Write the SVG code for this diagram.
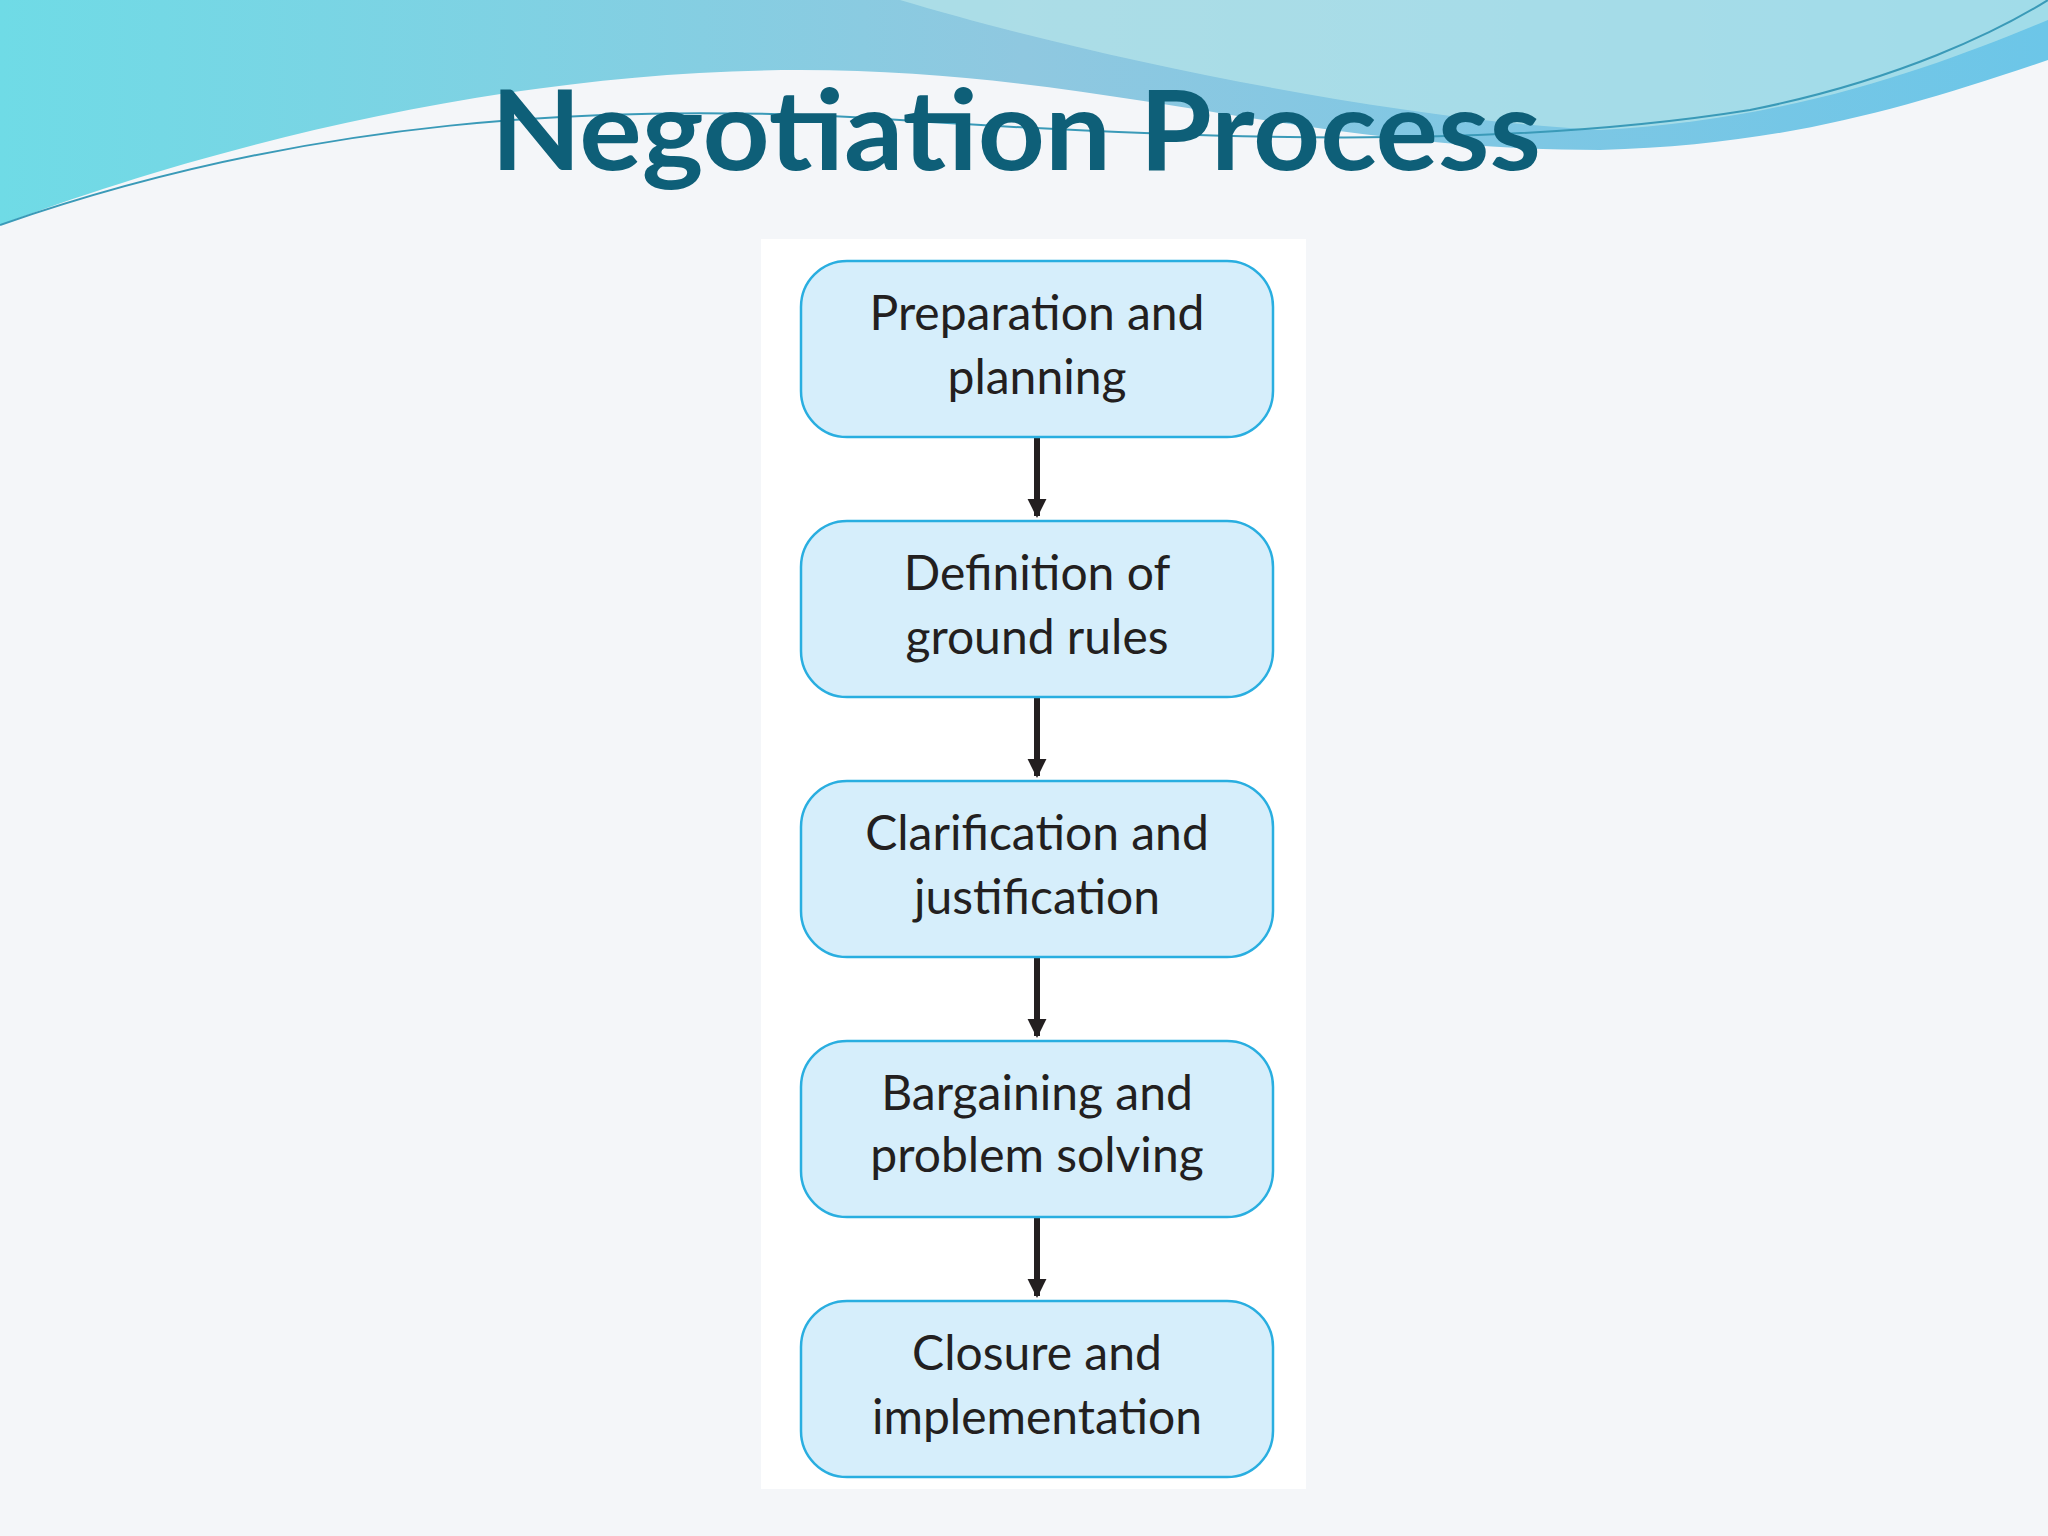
<svg xmlns="http://www.w3.org/2000/svg" width="2048" height="1536" viewBox="0 0 2048 1536">
<style>
.box{fill:#d6eefb;stroke:#29aee0;stroke-width:2.5}
.t{font-family:Lato,"Open Sans",sans-serif;font-size:48px;fill:#231f20;text-anchor:middle}
.c{stroke:#231f20;stroke-width:6}
</style>
<defs>
<linearGradient id="w" x1="0" y1="0" x2="1" y2="0">
<stop offset="0" stop-color="#6fdbe6"/><stop offset="0.5" stop-color="#8fc8e0"/><stop offset="1" stop-color="#6cc6e8"/>
</linearGradient>
<marker id="a" viewBox="0 0 10 10" refX="9" refY="5" markerWidth="3.2" markerHeight="5" orient="auto" markerUnits="strokeWidth"><path d="M0,0L10,5L0,10z" fill="#231f20"/></marker>
</defs>
<rect width="2048" height="1536" fill="#f4f6f9"/>
<path d="M0,0H2048V60C1900,110 1780,145 1600,150C1300,150 1100,70 800,70C500,70 200,150 0,225Z" fill="url(#w)"/>
<path d="M900,0C1100,60 1400,120 1600,130C1800,120 1950,60 2048,20V0Z" fill="#b8e6ea" opacity="0.7"/>
<path d="M0,225C300,120 600,100 900,120C1200,140 1500,150 1750,110C1900,80 2000,30 2048,0" fill="none" stroke="#3a9ab8" stroke-width="2"/>
<text x="1016" y="170" font-family="Lato,'Open Sans',sans-serif" font-weight="bold" font-size="112" fill="#0e5f78" text-anchor="middle" textLength="1050" lengthAdjust="spacingAndGlyphs">Negotiation Process</text>
<rect x="761" y="239" width="545" height="1250" fill="#ffffff"/>
<g id="connectors">
<line class="c" x1="1037" y1="437" x2="1037" y2="516" marker-end="url(#a)"/>
<line class="c" x1="1037" y1="697" x2="1037" y2="776" marker-end="url(#a)"/>
<line class="c" x1="1037" y1="957" x2="1037" y2="1036" marker-end="url(#a)"/>
<line class="c" x1="1037" y1="1217" x2="1037" y2="1296" marker-end="url(#a)"/>
</g>
<g id="n1"><rect class="box" x="801" y="261" width="472" height="176" rx="46"/><text class="t" x="1037" y="330">Preparation and</text><text class="t" x="1037" y="394">planning</text></g>
<g id="n2"><rect class="box" x="801" y="521" width="472" height="176" rx="46"/><text class="t" x="1037" y="590">Definition of</text><text class="t" x="1037" y="654">ground rules</text></g>
<g id="n3"><rect class="box" x="801" y="781" width="472" height="176" rx="46"/><text class="t" x="1037" y="850">Clarification and</text><text class="t" x="1037" y="914">justification</text></g>
<g id="n4"><rect class="box" x="801" y="1041" width="472" height="176" rx="46"/><text class="t" x="1037" y="1110">Bargaining and</text><text class="t" x="1037" y="1172">problem solving</text></g>
<g id="n5"><rect class="box" x="801" y="1301" width="472" height="176" rx="46"/><text class="t" x="1037" y="1370">Closure and</text><text class="t" x="1037" y="1434">implementation</text></g>
</svg>
